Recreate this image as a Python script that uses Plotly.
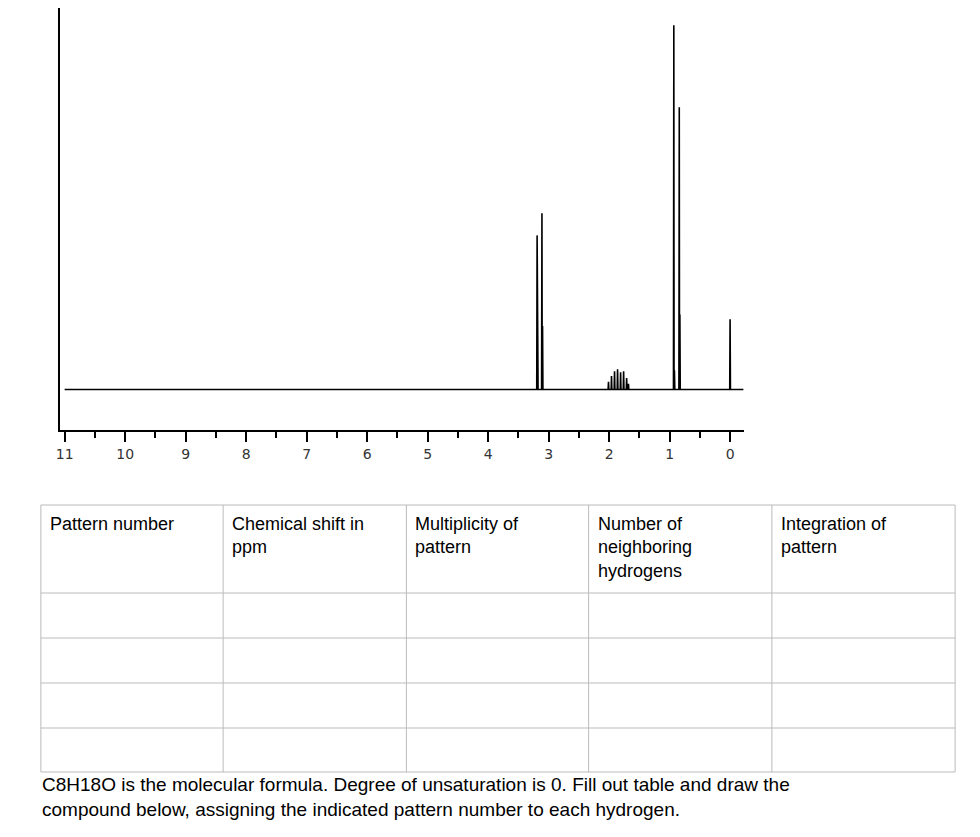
import plotly.graph_objects as go

# peak data (ppm, height)
peak_ppm = [3.19, 3.18, 3.11, 3.10, 2.01, 1.96, 1.91, 1.86, 1.81, 1.76, 1.71, 1.68, 0.93, 0.92, 0.84, 0.83, 0.00]
peak_h =   [160, 155, 183, 66, 8, 14, 19, 21, 18, 19, 12, 6, 378, 20, 293, 78, 73]
spec_range = [11.0, -0.22]
headers = ["Pattern number", "Chemical shift in<br>ppm", "Multiplicity of<br>pattern",
           "Number of<br>neighboring<br>hydrogens", "Integration of<br>pattern"]
caption = ("C8H18O is the molecular formula. Degree of unsaturation is 0. Fill out table and draw the<br>"
           "compound below, assigning the indicated pattern number to each hydrogen.")

W, H = 980, 837
O = 8  # page offset
def px(x): return (x - O) / W
def py(y): return 1 - (y - O) / H

xs, ys = [spec_range[0]], [0]
for p, h in sorted(zip(peak_ppm, peak_h), key=lambda t: -t[0]):
    xs += [p + 0.006, p, p - 0.006]
    ys += [0, h, 0]
xs.append(spec_range[1]); ys.append(0)

fig = go.Figure(go.Scatter(x=xs, y=ys, mode="lines", line=dict(color="black", width=1.6),
                           hoverinfo="skip"))
fig.update_layout(
    width=W, height=H, margin=dict(l=0, r=0, t=0, b=0),
    paper_bgcolor="white", plot_bgcolor="white", showlegend=False,
    xaxis=dict(domain=[px(56), px(743)], range=[11.08, -0.23], showgrid=False, zeroline=False,
               showline=True, linecolor="black", linewidth=1.5, ticks="outside", ticklen=10,
               tickcolor="black", tickwidth=1.5, dtick=1, tick0=0,
               tickfont=dict(family="DejaVu Sans", size=14, color="#333"),
               minor=dict(dtick=0.5, ticks="outside", ticklen=6, tickcolor="black", tickwidth=1.5)),
    yaxis=dict(domain=[py(430), 1], range=[-42, 388 + O * 430 / 430], showgrid=False, zeroline=False,
               showline=True, linecolor="black", linewidth=1.5, showticklabels=False, ticks=""),
)

colx = [37, 220, 404, 587, 771, 955]
rowy = [505, 593, 638, 683, 728, 772]
for x in colx:
    fig.add_shape(type="line", xref="paper", yref="paper", x0=px(x), x1=px(x),
                  y0=py(rowy[0]), y1=py(rowy[-1]), line=dict(color="#bbb", width=1))
for y in rowy:
    fig.add_shape(type="line", xref="paper", yref="paper", x0=px(colx[0]), x1=px(colx[-1]),
                  y0=py(y), y1=py(y), line=dict(color="#bbb", width=1))
for i, t in enumerate(headers):
    fig.add_annotation(xref="paper", yref="paper", x=px(colx[i] + 7), y=py(512),
                       text=t, showarrow=False, xanchor="left", yanchor="top", align="left",
                       font=dict(family="Liberation Sans, Arial", size=18, color="black"))
fig.add_annotation(xref="paper", yref="paper", x=px(36), y=py(772), text=caption,
                   showarrow=False, xanchor="left", yanchor="top", align="left",
                   font=dict(family="Liberation Sans, Arial", size=19, color="black"))
fig.write_html("out.html")
